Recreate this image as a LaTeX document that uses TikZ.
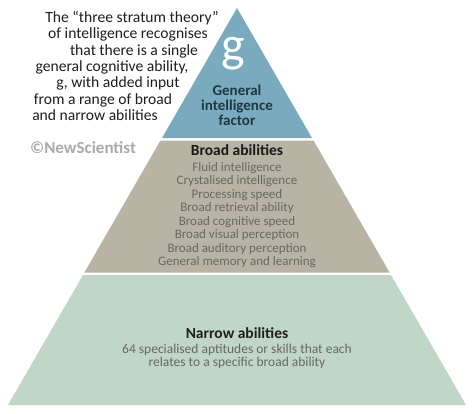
\documentclass[tikz,border=0pt]{standalone}
\usepackage{fontspec}
\setmainfont{Carlito}
\definecolor{topblue}{RGB}{122,170,190}
\definecolor{midgrey}{RGB}{183,180,165}
\definecolor{botgreen}{RGB}{192,214,199}
\definecolor{listgrey}{RGB}{105,104,94}
\definecolor{darkteal}{RGB}{28,56,68}
\definecolor{nsgrey}{RGB}{170,170,170}
\definecolor{bodytext}{RGB}{30,30,30}
\tikzset{
  layer/.style={draw=none},
  intro/.style={anchor=base, inner sep=0, font=\fontsize{15.6}{17}\selectfont, text=bodytext},
  heading/.style={anchor=base, inner sep=0, font=\fontsize{15.5}{18}\selectfont\bfseries},
  item/.style={anchor=base, inner sep=0, font=\fontsize{13}{15}\selectfont, text=listgrey},
  gfac/.style={anchor=base, inner sep=0, font=\fontsize{15}{17}\selectfont\bfseries, text=darkteal}
}
\begin{document}
\begin{tikzpicture}[x=1pt,y=-1pt]
\fill[white] (0,0) rectangle (474,413);
\useasboundingbox (0,0) rectangle (474,413);
% layers
\fill[layer, topblue] (237,8) -- (312,138) -- (162,138) -- cycle;
\fill[layer, midgrey] (160.5,140.5) -- (313.5,140.5) -- (389.6,272.5) -- (84.4,272.5) -- cycle;
\fill[layer, botgreen] (83,275) -- (391,275) -- (466,405) -- (8,405) -- cycle;
% intro text
\node[intro] (i1) at (132,22) {The “three stratum theory”};
\node[intro] (i2) at (128,38.5) {of intelligence recognises};
\node[intro] (i3) at (134,55) {that there is a single};
\node[intro] (i4) at (112,71) {general cognitive ability,};
\node[intro] (i5) at (118,87.5) {g, with added input};
\node[intro] (i6) at (103,104) {from a range of broad};
\node[intro] (i7) at (95,120) {and narrow abilities};
\node[anchor=base, inner sep=0, font=\fontsize{17}{19}\selectfont\bfseries, text=nsgrey] (ns) at (83,153) {©NewScientist};
% top
\node[anchor=base, inner sep=0, font=\fontsize{50}{50}\selectfont, text=white] (g) at (233,61) {g};
\node[gfac] (gf1) at (237,95) {General};
\node[gfac] (gf2) at (237,110) {intelligence};
\node[gfac] (gf3) at (237,125) {factor};
% middle
\node[heading, text=black!90] (ba) at (237,155) {Broad abilities};
\node[item] (b1) at (237,171) {Fluid intelligence};
\node[item] (b2) at (237,184.5) {Crystalised intelligence};
\node[item] (b3) at (237,198) {Processing speed};
\node[item] (b4) at (237,211.5) {Broad retrieval ability};
\node[item] (b5) at (237,225) {Broad cognitive speed};
\node[item] (b6) at (237,238.5) {Broad visual perception};
\node[item] (b7) at (237,252) {Broad auditory perception};
\node[item] (b8) at (237,265.5) {General memory and learning};
% bottom
\node[heading, text=black!88] (na) at (237,338) {Narrow abilities};
\node[item, font=\fontsize{13.5}{15}\selectfont] (n1) at (237,353) {64 specialised aptitudes or skills that each};
\node[item, font=\fontsize{13.5}{15}\selectfont] (n2) at (237,366) {relates to a specific broad ability};
\end{tikzpicture}
\end{document}
